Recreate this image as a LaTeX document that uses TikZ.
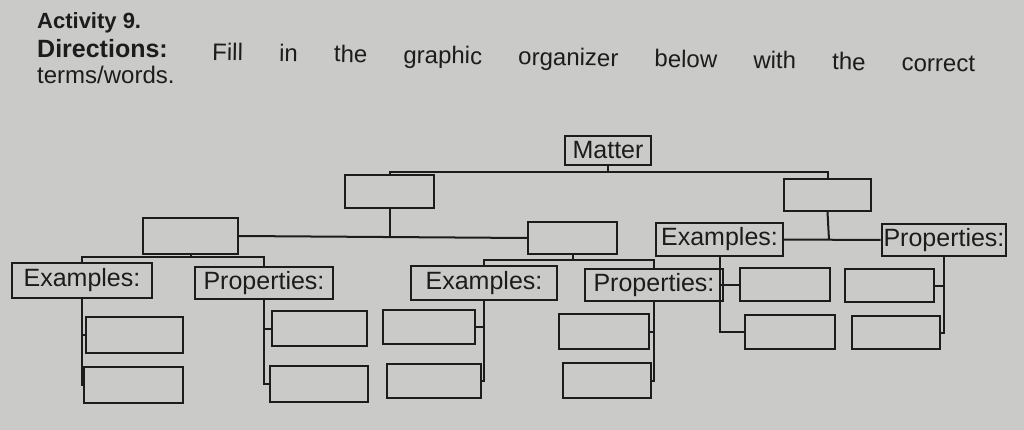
\documentclass[tikz,border=0pt]{standalone}
\usepackage{fontspec}
\setmainfont{Liberation Sans}
\definecolor{paper}{RGB}{202,202,200}
\definecolor{ink}{RGB}{28,28,28}

\begin{document}
\begin{tikzpicture}[x=1pt, y=-1pt,
    box/.style={draw=ink, line width=2pt, inner sep=2pt, text=ink,
      font=\fontsize{25}{30}\selectfont},
    wire/.style={draw=ink, line width=2pt},
    head/.style={anchor=base west, text=ink, inner sep=0pt}]
  % Paper:
  \fill[paper] (0,0) rectangle (1024,430);
  % Heading and directions:
  \node[head, font=\bfseries\fontsize{22}{26}\selectfont] (act) at (37,29) {Activity 9.};
  \node[head, font=\bfseries\fontsize{25}{30}\selectfont] (dir) at (37,58) {Directions:};
  \node[head, rotate=-0.9, font=\fontsize{24}{28}\selectfont] (fill) at (212,60)
    {\makebox[763pt][s]{Fill in the graphic organizer below with the correct}};
  \node[head, font=\fontsize{24}{28}\selectfont] (terms) at (37,84) {terms/words.};
  % Labelled boxes:
  \node[box, minimum width=86, minimum height=29] (matter) at (608,150.5) {Matter};
  \node[box, minimum width=140, minimum height=35] (exLL) at (82,280.5) {Examples:};
  \node[box, minimum width=138, minimum height=32] (prLL) at (264,283) {Properties:};
  \node[box, minimum width=146, minimum height=34] (exLR) at (484,283) {Examples:};
  \node[box, minimum width=138, minimum height=32] (prLR) at (654,285) {Properties:};
  \node[box, minimum width=127, minimum height=33] (exR) at (719.5,239.5) {Examples:};
  \node[box, minimum width=120, minimum height=32] (prR) at (944,240) {Properties:};
  % Blank boxes:
  \foreach \n/\x/\y/\w/\h in {l1/389.5/191.5/89/33, r1/827.5/195/87/32,
      ll/190.5/236/95/35, lr/572.5/238/89/32,
      a1/134.5/335/97/36, a2/133.5/385/99/36,
      b1/319.5/328.5/95/35, b2/319/384/98/36,
      c1/429/327/92/34, c2/434/381/94/34,
      d1/604/331.5/90/35, d2/607/380.5/88/35,
      e1/785/284.5/90/33, e2/790/332/90/34,
      f1/889.5/285.5/89/33, f2/896/332.5/88/33}
    \node[box, minimum width=\w, minimum height=\h] (\n) at (\x,\y) {};
  % Junctions:
  \coordinate (mj) at (608,172);
  \coordinate (lj) at (389.5,237);
  \coordinate (rj) at (829,240);
  \coordinate (llj) at (190.5,257);
  \coordinate (lrj) at (572.5,260);
  % Wires:
  \draw[wire] (matter.south) -- (mj);
  \draw[wire] (l1.north) |- (mj) -| (r1.north);
  \draw[wire] (l1.south) -- (lj);
  \draw[wire] (ll.east) -- (lr.west);
  \draw[wire] (r1.south) -- (rj);
  \draw[wire] (exR.east) -- (prR.west);
  \draw[wire] (ll.south) -- (llj);
  \draw[wire] (exLL.north) |- (llj) -| (prLL.north);
  \draw[wire] (lr.south) -- (lrj);
  \draw[wire] (exLR.north) |- (lrj) -| (prLR.north);
  \draw[wire] (exLL.south) |- (a1.west);
  \draw[wire] (exLL.south) |- (a2.west);
  \draw[wire] (prLL.south) |- (b1.west);
  \draw[wire] (prLL.south) |- (b2.west);
  \draw[wire] (exLR.south) |- (c1.east);
  \draw[wire] (exLR.south) |- (c2.east);
  \draw[wire] (prLR.south) |- (d1.east);
  \draw[wire] (prLR.south) |- (d2.east);
  \draw[wire] (exR.south) |- (e1.west);
  \draw[wire] (exR.south) |- (e2.west);
  \draw[wire] (prR.south) |- (f1.east);
  \draw[wire] (prR.south) |- (f2.east);
\end{tikzpicture}
\end{document}
